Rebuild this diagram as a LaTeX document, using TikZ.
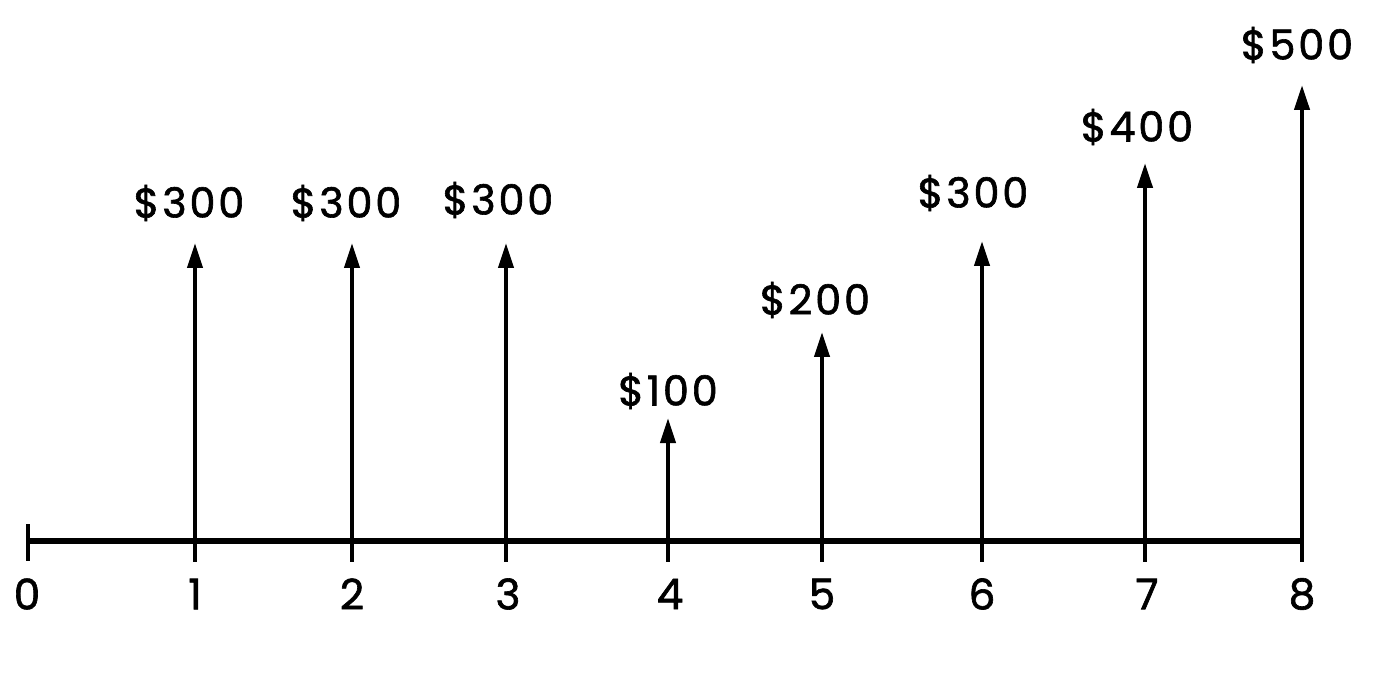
\documentclass[tikz,border=0pt]{standalone}
\usepackage{fontspec}
\setmainfont{Poppins}
\usepackage{tikz}
\usetikzlibrary{arrows.meta}
\tikzset{
    axisline/.style={draw=black, line width=3.2pt},
    tickmark/.style={draw=black, line width=2.2pt},
    cashflow/.style={draw=black, line width=2.4pt,
        -{Triangle[length=0.5cm, width=0.3cm]}},
    amount/.style={font=\fontsize{23.5}{26}\selectfont\addfontfeature{FakeBold=1.5,LetterSpace=7}, inner sep=0pt},
    period/.style={font=\fontsize{24}{26}\selectfont\addfontfeature{FakeBold=1.5}, inner sep=0pt},
}

\begin{document}
\begin{tikzpicture}[x=0.02cm, y=-0.02cm]
\useasboundingbox (0,0) rectangle (1392,696);
	% time axis
	\coordinate (a0) at (28,541);
	\coordinate (a1) at (195,541);
	\coordinate (a2) at (352,541);
	\coordinate (a3) at (506,541);
	\coordinate (a4) at (668,541);
	\coordinate (a5) at (822,541);
	\coordinate (a6) at (982,541);
	\coordinate (a7) at (1145,541);
	\coordinate (a8) at (1302,541);
	\draw[axisline] (a0) -- (a8);
	\draw[tickmark] (a0) ++(0,-17) -- ++(0,37);
	\draw[tickmark] (a1) -- ++(0,21);
	\draw[tickmark] (a2) -- ++(0,21);
	\draw[tickmark] (a3) -- ++(0,21);
	\draw[tickmark] (a4) -- ++(0,21);
	\draw[tickmark] (a5) -- ++(0,21);
	\draw[tickmark] (a6) -- ++(0,21);
	\draw[tickmark] (a7) -- ++(0,21);
	\draw[tickmark] (a8) ++(0,-11) -- ++(0,32);
	\node[period] (t0) at (27,594) {0};
	\node[period] (t1) at (195,594) {1};
	\node[period] (t2) at (352,594) {2};
	\node[period] (t3) at (508,594) {3};
	\node[period] (t4) at (670,594) {4};
	\node[period] (t5) at (822,594) {5};
	\node[period] (t6) at (982,594) {6};
	\node[period] (t7) at (1147,594) {7};
	\node[period] (t8) at (1302,594) {8};
	% cash flows
	\coordinate (p1) at (195,243);
	\coordinate (p2) at (352,243);
	\coordinate (p3) at (506,243);
	\coordinate (p4) at (668,418);
	\coordinate (p5) at (822,332);
	\coordinate (p6) at (982,241);
	\coordinate (p7) at (1145,163);
	\coordinate (p8) at (1302,85);
	\draw[cashflow] (a1) -- (p1);
	\draw[cashflow] (a2) -- (p2);
	\draw[cashflow] (a3) -- (p3);
	\draw[cashflow] (a4) -- (p4);
	\draw[cashflow] (a5) -- (p5);
	\draw[cashflow] (a6) -- (p6);
	\draw[cashflow] (a7) -- (p7);
	\draw[cashflow] (a8) -- (p8);
	\node[amount] (m1) at (189,203) {\$300};
	\node[amount] (m2) at (346,203) {\$300};
	\node[amount] (m3) at (498,200) {\$300};
	\node[amount] (m4) at (668,391) {\$100};
	\node[amount] (m5) at (815,300) {\$200};
	\node[amount] (m6) at (973,193) {\$300};
	\node[amount] (m7) at (1137,127) {\$400};
	\node[amount] (m8) at (1297,45) {\$500};
\end{tikzpicture}
\end{document}
